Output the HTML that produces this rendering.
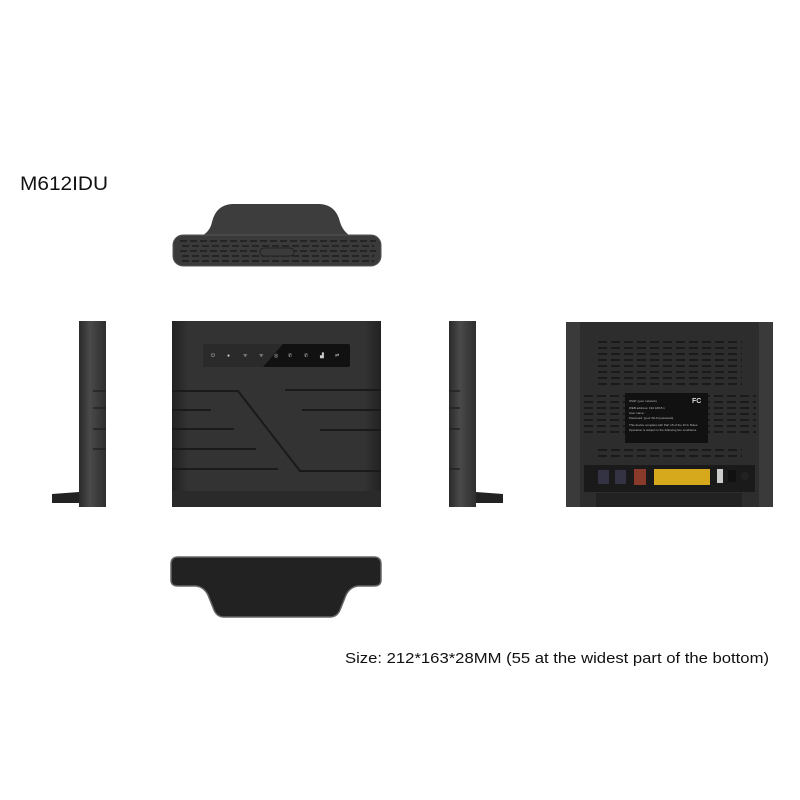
<!DOCTYPE html>
<html><head><style>
html,body{margin:0;padding:0;background:#fff;width:800px;height:800px;overflow:hidden}
</style></head><body>
<svg width="800" height="800" viewBox="0 0 800 800" xmlns="http://www.w3.org/2000/svg">
<defs>
<linearGradient id="side" x1="0" x2="1" y1="0" y2="0">
<stop offset="0" stop-color="#2a2a2a"/><stop offset="0.4" stop-color="#4a4a4a"/><stop offset="1" stop-color="#2e2e2e"/>
</linearGradient>
<linearGradient id="front" x1="0" x2="1" y1="0" y2="0">
<stop offset="0" stop-color="#222"/><stop offset="0.08" stop-color="#333"/><stop offset="0.92" stop-color="#333"/><stop offset="1" stop-color="#222"/>
</linearGradient>
</defs>
<text x="20" y="190" font-family="Liberation Sans, sans-serif" font-size="19" fill="#111" textLength="88" lengthAdjust="spacingAndGlyphs">M612IDU</text>

<!-- top view -->
<path d="M200 237 Q210 232 212 222 Q216 205 232 204 L320 204 Q336 205 340 222 Q343 232 352 237 Z" fill="#3d3d3d"/>
<rect x="173" y="235" width="208" height="31" rx="10" fill="#3a3a3a" stroke="#555"/>
<g stroke="#1c1c1c" stroke-width="1.6" stroke-dasharray="7 3">
<line x1="180" y1="241" x2="376" y2="241"/><line x1="182" y1="246" x2="374" y2="246"/>
<line x1="180" y1="251" x2="376" y2="251"/><line x1="182" y1="256" x2="374" y2="256"/>
<line x1="182" y1="261" x2="374" y2="261"/>
</g>
<rect x="260" y="248" width="34" height="8" rx="4" fill="#3a3a3a" stroke="#222"/>

<!-- left side -->
<rect x="79" y="321" width="27" height="186" fill="url(#side)"/>
<polygon points="52,494 79,492 79,503 52,503" fill="#222"/>
<g stroke="#222" stroke-width="1.5"><line x1="93" y1="391" x2="106" y2="391"/><line x1="93" y1="408" x2="106" y2="408"/><line x1="93" y1="429" x2="106" y2="429"/><line x1="93" y1="449" x2="106" y2="449"/></g>

<!-- front -->
<rect x="172" y="321" width="209" height="186" fill="url(#front)"/>
<rect x="172" y="491" width="209" height="16" fill="#2a2a2a"/>
<rect x="203" y="344" width="147" height="23" rx="2" fill="#111"/>
<path d="M203 344 L283 344 L263 367 L203 367 Z" fill="#2a2a2a"/>
<g fill="#ccc" font-family="Liberation Sans, sans-serif" font-size="5">
<text x="211" y="357">⏻</text><text x="227" y="357">●</text><text x="243" y="357">ᯤ</text><text x="259" y="357">ᯤ</text><text x="274" y="357">◎</text><text x="288" y="357">✆</text><text x="304" y="357">✆</text><text x="320" y="357">▟</text><text x="335" y="357">⇌</text>
</g>
<g stroke="#1a1a1a" stroke-width="2" fill="none">
<line x1="172" y1="410" x2="211" y2="410"/><line x1="172" y1="429" x2="234" y2="429"/>
<line x1="172" y1="449" x2="256" y2="449"/><line x1="172" y1="469" x2="278" y2="469"/>
<line x1="285" y1="390" x2="381" y2="390"/><line x1="302" y1="410" x2="381" y2="410"/><line x1="320" y1="430" x2="381" y2="430"/>
<path d="M172 391 L238 391 L300 471 L381 471"/>
</g>

<!-- right side -->
<rect x="449" y="321" width="27" height="186" fill="url(#side)"/>
<polygon points="476,492 503,494 503,503 476,503" fill="#222"/>
<g stroke="#222" stroke-width="1.5"><line x1="449" y1="391" x2="460" y2="391"/><line x1="449" y1="408" x2="460" y2="408"/><line x1="449" y1="429" x2="460" y2="429"/><line x1="449" y1="469" x2="460" y2="469"/></g>

<!-- back -->
<rect x="566" y="322" width="207" height="185" fill="#2d2d2d"/>
<rect x="566" y="322" width="14" height="185" fill="#3a3a3a"/>
<rect x="759" y="322" width="14" height="185" fill="#3a3a3a"/>
<g stroke="#151515" stroke-width="1.4" stroke-dasharray="9 4">
<line x1="598" y1="342" x2="742" y2="342"/><line x1="598" y1="348" x2="742" y2="348"/><line x1="598" y1="354" x2="742" y2="354"/><line x1="598" y1="360" x2="742" y2="360"/><line x1="598" y1="366" x2="742" y2="366"/><line x1="598" y1="372" x2="742" y2="372"/><line x1="598" y1="378" x2="742" y2="378"/><line x1="598" y1="384" x2="742" y2="384"/>
<line x1="584" y1="396" x2="756" y2="396"/><line x1="584" y1="402" x2="756" y2="402"/><line x1="584" y1="408" x2="756" y2="408"/><line x1="584" y1="414" x2="756" y2="414"/><line x1="584" y1="420" x2="756" y2="420"/><line x1="584" y1="426" x2="756" y2="426"/><line x1="584" y1="432" x2="756" y2="432"/>
<line x1="598" y1="450" x2="742" y2="450"/><line x1="598" y1="456" x2="742" y2="456"/>
</g>
<rect x="625" y="393" width="83" height="50" fill="#111"/>
<g fill="#bbb" font-family="Liberation Sans, sans-serif" font-size="3"><text x="629" y="402">SSID: [your network]</text><text x="629" y="409">WEB address: 192.168.8.1</text><text x="629" y="414">User name: </text><text x="629" y="419">Password: [your WI-FI password]</text><text x="629" y="426">This device complies with Part 15 of the FCC Rules.</text><text x="629" y="431">Operation is subject to the following two conditions</text></g>
<text x="692" y="403" fill="#ddd" font-family="Liberation Sans, sans-serif" font-size="7" font-weight="bold">FC</text>
<rect x="584" y="465" width="171" height="27" fill="#1a1a1a"/>
<rect x="598" y="470" width="11" height="14" fill="#334"/><rect x="615" y="470" width="11" height="14" fill="#334"/>
<rect x="634" y="469" width="12" height="16" fill="#8a3a2a"/>
<rect x="654" y="469" width="56" height="16" fill="#d6a81c"/>
<rect x="717" y="469" width="6" height="14" fill="#ccc"/>
<rect x="728" y="470" width="8" height="12" fill="#111"/><circle cx="745" cy="476" r="4" fill="#222"/>
<rect x="596" y="493" width="146" height="14" fill="#222"/>

<!-- bottom view -->
<path d="M178 557 L374 557 Q381 557 381 564 L381 580 Q381 586 374 586 L358 586 Q350 587 346 595 L340 610 Q337 617 330 617 L224 617 Q217 617 214 610 L208 595 Q204 587 196 586 L178 586 Q171 586 171 580 L171 564 Q171 557 178 557 Z" fill="#222" stroke="#666" stroke-width="1.5"/>

<text x="345" y="663" font-family="Liberation Sans, sans-serif" font-size="15" fill="#111" textLength="424" lengthAdjust="spacingAndGlyphs">Size: 212*163*28MM (55 at the widest part of the bottom)</text>
</svg>
</body></html>
